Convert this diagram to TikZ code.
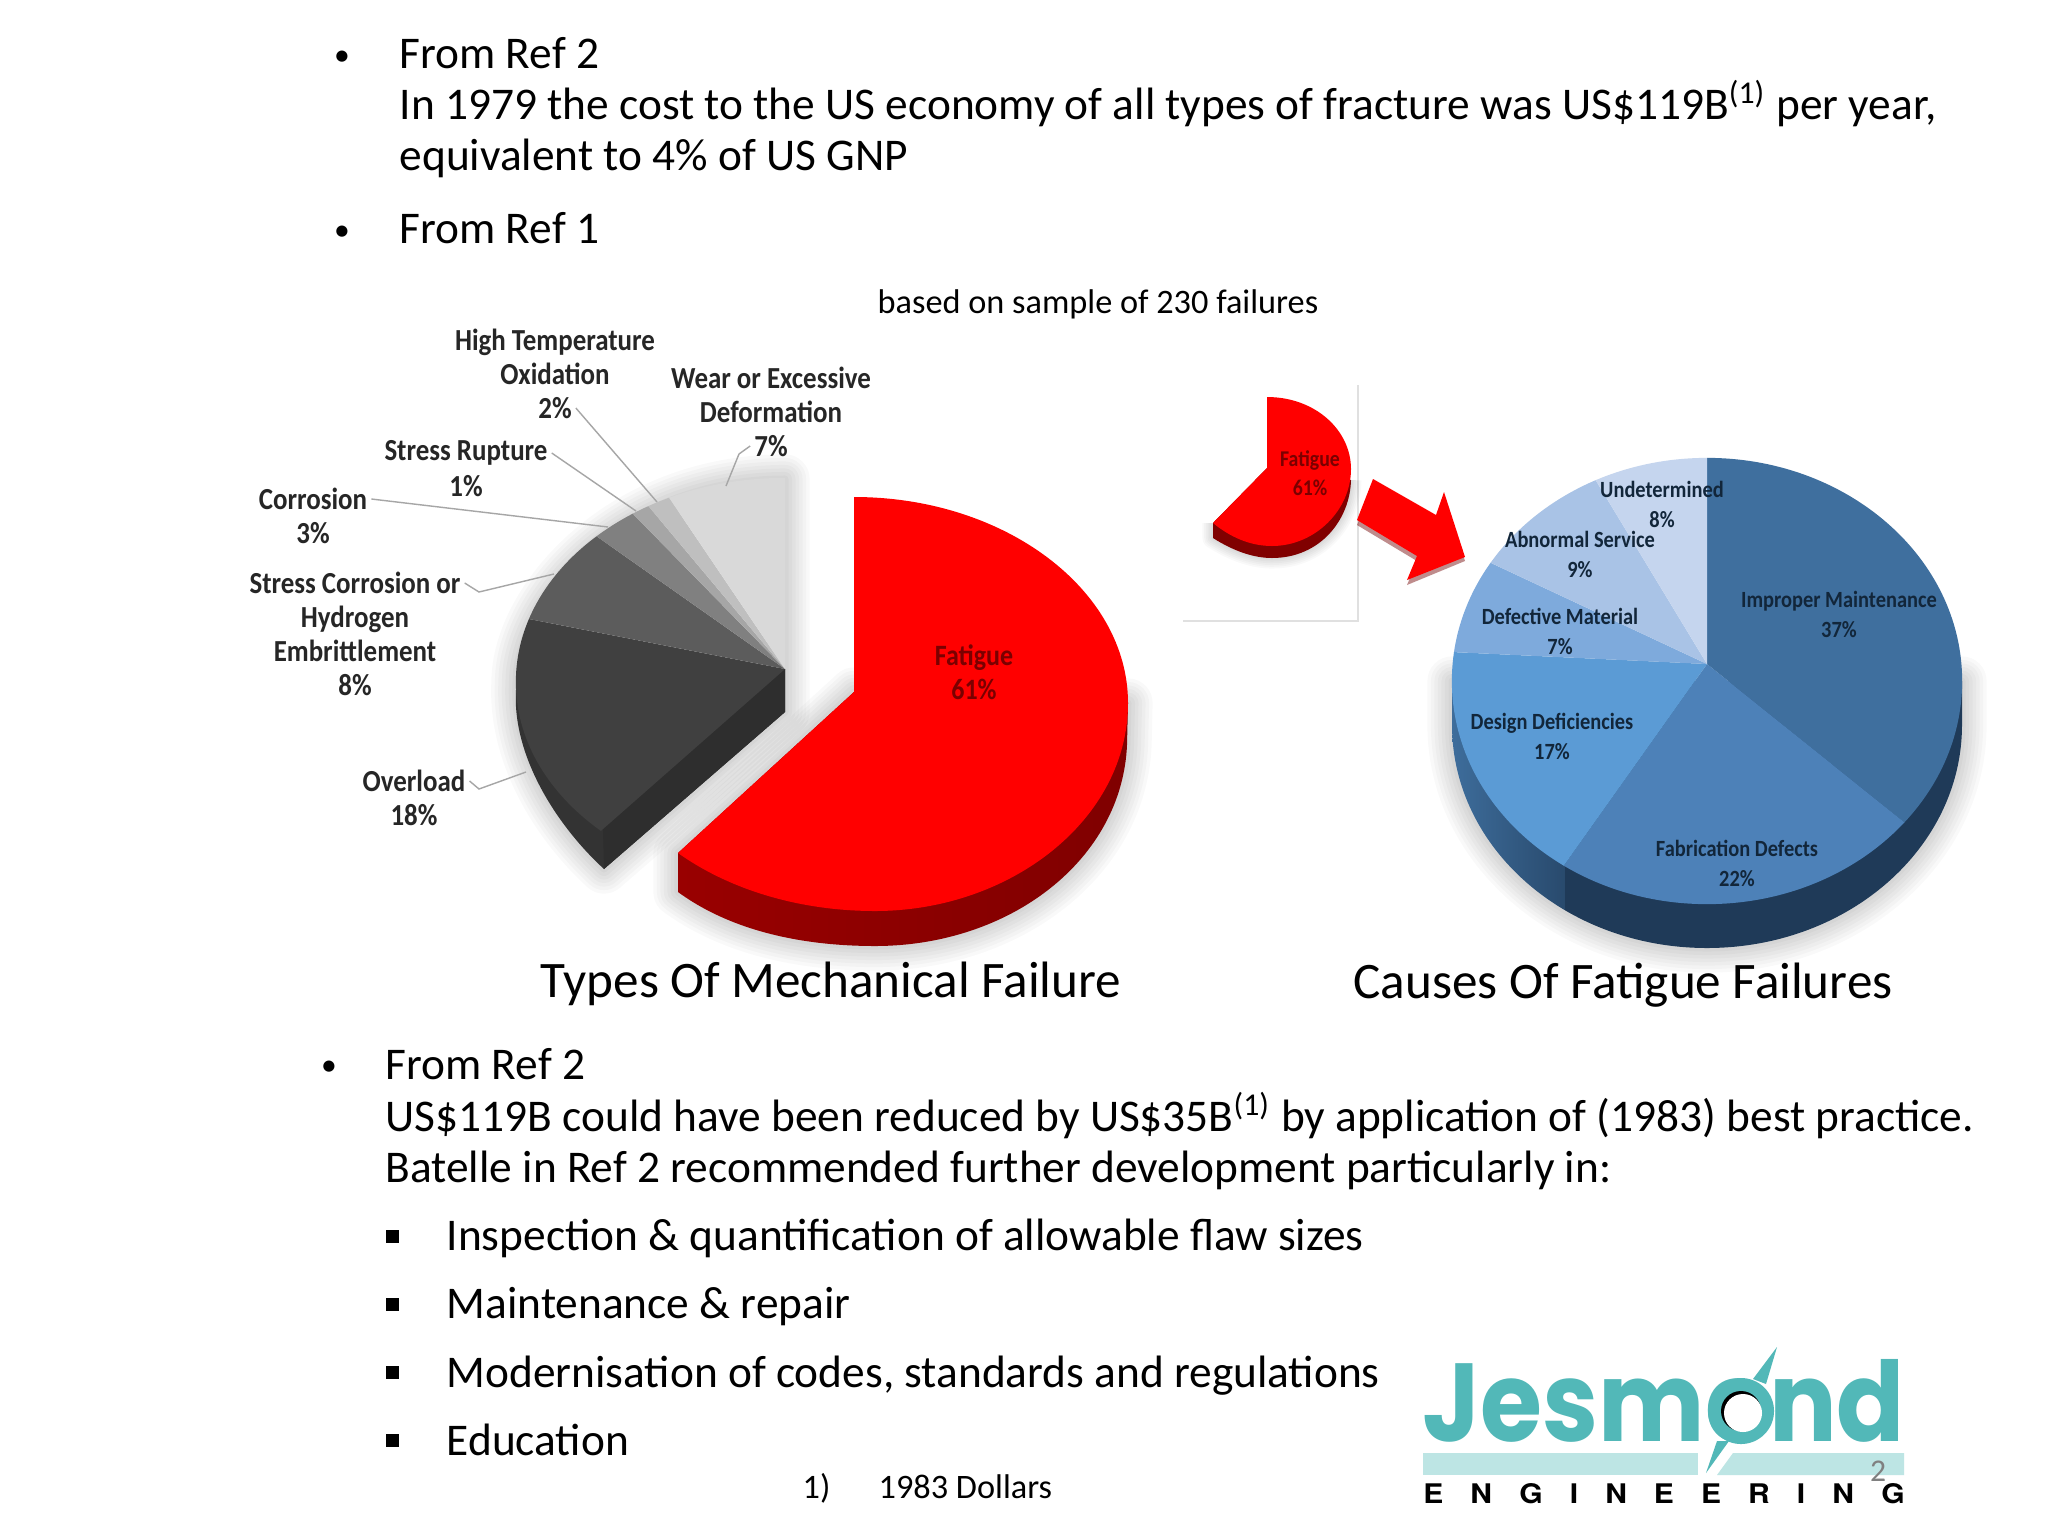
\documentclass[tikz,border=0pt]{standalone}
\usepackage{fontspec}
\usepackage{graphicx}
\setmainfont{Carlito}
\newfontfamily\logofont{Poppins}
\newfontfamily\enginefont{TeX Gyre Heros}[LetterSpace=90]
\newfontfamily\narrowfont{Carlito}[FakeStretch=0.88]
\usetikzlibrary{calc}
\definecolor{faildark}{HTML}{7A0000}
\definecolor{causeink}{HTML}{12263A}
\definecolor{jesmondteal}{HTML}{52B8B8}
\definecolor{jesmondbar}{HTML}{BDE5E4}
\definecolor{causea}{HTML}{3F6F9E}
\definecolor{causeb}{HTML}{4D81B8}
\definecolor{causec}{HTML}{5B9BD5}
\definecolor{caused}{HTML}{7EAADC}
\definecolor{causee}{HTML}{A9C3E6}
\definecolor{causef}{HTML}{C5D5EE}
\definecolor{causerim}{HTML}{1F3A58}
\newcommand{\redfaceoutline}{(854,497) .. controls (1005,497) and (1128,590) .. (1128,703) .. controls (1128,820) and (1010,911) .. (875,911) .. controls (800,911) and (730,890) .. (678,853) -- (854,692) -- cycle}
\newcommand{\redsideoutline}{(678,853) -- (678,892) .. controls (730,930) and (800,946) .. (875,946) .. controls (1010,946) and (1122,860) .. (1127,745) -- (1128,703) -- (854,692) -- cycle}
\newcommand{\greyoutline}{(785,479) -- (785,712) -- (604,869) .. controls (556,825) and (512,755) .. (516,682) .. controls (516,600) and (620,479) .. (785,479) -- cycle}
\newcommand{\causeside}{(1452,725) .. controls (1452,848) and (1566,948) .. (1707,948) .. controls (1848,948) and (1962,848) .. (1962,725) -- (1962,681) -- (1452,681) -- cycle}
\newcommand{\slicefill}[4]{\fill[#1] (#2) -- ($(#2)!3!(#3)$) -- ($(#2)!3!(#4)$) -- cycle;}
\begin{document}
\begin{tikzpicture}[
      x=0.01cm,y=-0.01cm,
      bodytext/.style={anchor=base west,inner sep=0pt,font=\fontsize{12.9}{15}\selectfont},
      roundmark/.style={anchor=base,inner sep=0pt,font=\fontsize{9}{11}\selectfont},
      captiontext/.style={anchor=base,inner sep=0pt,font=\fontsize{14.55}{17}\selectfont},
      notetext/.style={anchor=base west,inner sep=0pt,font=\fontsize{9.75}{12}\selectfont},
      pielabel/.style={align=center,inner sep=1pt,text=black!85,font=\narrowfont\bfseries\fontsize{8.7}{9.6}\selectfont},
      causelabel/.style={align=center,inner sep=0pt,text=causeink,font=\narrowfont\bfseries\fontsize{6.6}{8.5}\selectfont},
      faillabel/.style={align=center,inner sep=0pt,text=faildark,font=\narrowfont\bfseries\fontsize{8.4}{9.6}\selectfont},
      thumblabel/.style={align=center,inner sep=0pt,text=faildark,font=\narrowfont\bfseries\fontsize{6.4}{8.2}\selectfont},
      leader/.style={draw=gray!70,line width=0.4pt},
      softshade/.style={draw=black,opacity=0.022,line join=round},
      squaremark/.style={fill=black,inner sep=0pt,minimum size=0.13cm}
      ]
      \useasboundingbox (0,0) rectangle (2048,1536);
      \fill[white] (0,0) rectangle (2048,1536);

      \node[roundmark] (roundmarka) at (342,65) {\textbullet};
      \node[bodytext] (refa) at (399,68) {From Ref 2};
      \node[bodytext] (refb) at (399,119) {In 1979 the cost to the US economy of all types of fracture was US\$119B\textsuperscript{(1)} per year,};
      \node[bodytext] (refc) at (399,170) {equivalent to 4\% of US GNP};
      \node[roundmark] (roundmarkb) at (342,240) {\textbullet};
      \node[bodytext] (refd) at (399,243) {From Ref 1};
      \node[notetext] (sample) at (877,313) {based on sample of 230 failures};

      \foreach \w in {2,4,...,14}
        \draw[softshade,line width=\w pt] \greyoutline;
      \foreach \w in {2,4,...,14}
        \draw[softshade,line width=\w pt] \redsideoutline;

      \fill[black!80] (516,690) .. controls (512,755) and (556,825) .. (604,869) -- (785,712) -- (785,669) -- cycle;
      \fill[black!82] (785,669) -- (785,712) -- (604,869) -- (603,829) -- cycle;
      \begin{scope}
        \clip (785,682) ellipse [x radius=2.69cm,y radius=2.04cm];
        \coordinate (greymid) at (785,669);
        \slicefill{black!75}{greymid}{603,829}{529,619}
        \slicefill{black!64}{greymid}{529,619}{599,538}
        \slicefill{black!50}{greymid}{599,538}{634,515}
        \slicefill{black!35}{greymid}{634,515}{650,508}
        \slicefill{black!25}{greymid}{650,508}{670,499}
        \slicefill{black!15}{greymid}{670,499}{785,479}
      \end{scope}

      \shade[left color=red!60!black,middle color=red!32!black,right color=red!50!black] \redsideoutline;
      \fill[red] \redfaceoutline;
      \node[faillabel] (fatigue) at (974,672) {Fatigue\\61\%};

      \node[pielabel] (htname) at (555,357) {High Temperature\\Oxidation};
      \node[pielabel] (htpct) at (555,408) {2\%};
      \node[pielabel] (wearname) at (771,395) {Wear or Excessive\\Deformation};
      \node[pielabel] (wearpct) at (771,446) {7\%};
      \node[pielabel] (ruptname) at (466,453) {Stress Rupture};
      \node[pielabel] (ruptpct) at (466,486) {1\%};
      \node[pielabel] (corrname) at (313,499) {Corrosion};
      \node[pielabel] (corrpct) at (313,533) {3\%};
      \node[pielabel] (sccname) at (355,583) {Stress Corrosion or};
      \node[pielabel] (sccrest) at (355,651) {Hydrogen\\Embrittlement\\8\%};
      \node[pielabel] (overname) at (414,781) {Overload};
      \node[pielabel] (overpct) at (414,815) {18\%};

      \coordinate (htend) at (657,502);
      \coordinate (ruptend) at (636,511);
      \coordinate (corrend) at (608,527);
      \coordinate (sccbend) at (479,592);
      \coordinate (sccend) at (554,574);
      \coordinate (overbend) at (479,789);
      \coordinate (overend) at (526,772);
      \coordinate (wearbend) at (739,454);
      \coordinate (wearend) at (726,486);
      \draw[leader] (htpct.east) -- (htend);
      \draw[leader] (ruptname.east) -- (ruptend);
      \draw[leader] (corrname.east) -- (corrend);
      \draw[leader] (sccname.east) -- (sccbend) -- (sccend);
      \draw[leader] (overname.east) -- (overbend) -- (overend);
      \draw[leader] (wearpct.west) -- (wearbend) -- (wearend);

      \draw[black!12] (1183,621) -- (1358,621) -- (1358,385);
      \foreach \w in {1,2,...,6}
        \draw[softshade,line width=\w pt] (1213,523) -- (1213,538) .. controls (1235,552) and (1255,558) .. (1272,558) .. controls (1320,558) and (1350,520) .. (1351,480);
      \fill[red!50!black] (1213,523) -- (1213,538) .. controls (1235,552) and (1255,558) .. (1272,558) .. controls (1320,558) and (1350,520) .. (1351,480) -- (1267,468) -- cycle;
      \fill[red] (1267,397) .. controls (1315,397) and (1351,430) .. (1351,469) .. controls (1351,510) and (1315,546) .. (1272,546) .. controls (1250,546) and (1230,537) .. (1213,523) -- (1267,468) -- cycle;
      \node[thumblabel] (thumbfatigue) at (1310,473) {Fatigue\\61\%};

      \fill[red!45!black,opacity=0.45] (1373,484) -- (1436,520) -- (1444,497) -- (1465,561) -- (1407,585) -- (1417,561) -- (1357,525) -- cycle;
      \fill[red] (1373,479) -- (1436,515) -- (1444,492) -- (1465,557) -- (1407,580) -- (1417,556) -- (1357,520) -- cycle;

      \foreach \w in {2,4,...,14}
        \draw[softshade,line width=\w pt] \causeside;
      \begin{scope}
        \clip \causeside;
        \shade[left color=causea,right color=causerim!70!causea] (1445,680) rectangle (1565,960);
        \fill[causerim] (1565,680) rectangle (1970,960);
      \end{scope}
      \begin{scope}
        \clip (1707,681) ellipse [x radius=2.55cm,y radius=2.23cm];
        \coordinate (causemid) at (1707,664);
        \slicefill{causea}{causemid}{1707,459}{1904,822}
        \slicefill{causeb}{causemid}{1904,822}{1565,864}
        \slicefill{causec}{causemid}{1565,864}{1452,652}
        \slicefill{caused}{causemid}{1452,652}{1491,563}
        \slicefill{causee}{causemid}{1491,563}{1601,489}
        \slicefill{causef}{causemid}{1601,489}{1707,459}
      \end{scope}
      \node[causelabel] (undet) at (1662,504) {Undetermined\\8\%};
      \node[causelabel] (abnormal) at (1580,554) {Abnormal Service\\9\%};
      \node[causelabel] (defective) at (1560,631) {Defective Material\\7\%};
      \node[causelabel] (improper) at (1839,614) {Improper Maintenance\\37\%};
      \node[causelabel] (design) at (1552,736) {Design Deficiencies\\17\%};
      \node[causelabel] (fabrication) at (1737,863) {Fabrication Defects\\22\%};

      \node[captiontext] (typescap) at (831,997) {Types Of Mechanical Failure};
      \node[captiontext] (causescap) at (1623,998) {Causes Of Fatigue Failures};

      \node[roundmark] (roundmarkc) at (329,1075) {\textbullet};
      \node[bodytext] (refe) at (385,1079) {From Ref 2};
      \node[bodytext] (reff) at (385,1131) {US\$119B could have been reduced by US\$35B\textsuperscript{(1)} by application of (1983) best practice.};
      \node[bodytext] (refg) at (385,1182) {Batelle in Ref 2 recommended further development particularly in:};
      \node[squaremark] (marka) at (392,1236) {};
      \node[bodytext] (itema) at (446,1250) {Inspection \& quantification of allowable flaw sizes};
      \node[squaremark] (markb) at (392,1304) {};
      \node[bodytext] (itemb) at (446,1318) {Maintenance \& repair};
      \node[squaremark] (markc) at (392,1372) {};
      \node[bodytext] (itemc) at (446,1387) {Modernisation of codes, standards and regulations};
      \node[squaremark] (markd) at (392,1440) {};
      \node[bodytext] (itemd) at (446,1455) {Education};
      \node[notetext] (noteno) at (802,1498) {1)};
      \node[notetext] (notetext) at (878,1498) {1983 Dollars};

      \node[inner sep=0pt,anchor=base west,text=jesmondteal] (jesmond) at (1422,1441) {\resizebox{4.82cm}{0.82cm}{\logofont\bfseries Jesmond}};
      \fill[jesmondteal] (1777,1347) -- (1753,1379) -- (1766,1384) -- cycle;
      \fill[jesmondteal] (1706,1473) -- (1717,1441) -- (1729,1441) -- cycle;
      \fill[jesmondbar] (1423,1453) rectangle (1698,1475);
      \fill[jesmondbar] (1733,1453) -- (1904,1453) -- (1904,1475) -- (1717,1475) -- cycle;
      \fill[jesmondteal] (1741,1411) circle [radius=0.33cm];
      \fill[black] (1741,1411) circle [radius=0.20cm];
      \fill[white] (1743,1413) circle [radius=0.19cm];
      \node[inner sep=0pt,anchor=center] (engineering) at (1664,1494) {\resizebox{4.81cm}{0.20cm}{\enginefont\bfseries ENGINEERING}};
      \node[anchor=base,inner sep=0pt,text=gray,font=\fontsize{9}{11}\selectfont] (pageno) at (1878,1481) {2};
    \end{tikzpicture}
\end{document}
